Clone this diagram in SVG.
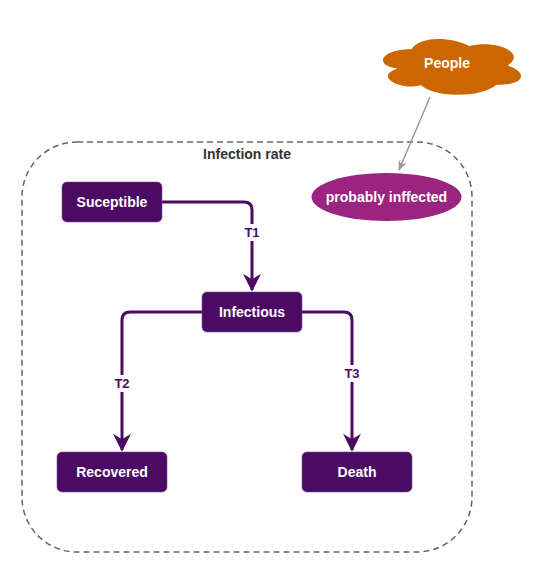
<svg xmlns="http://www.w3.org/2000/svg" width="554" height="576" viewBox="0 0 554 576">
<style>
.node rect{fill:#4b0b65;stroke:#7a4a90;stroke-width:0.6}
.nt{font-family:"Liberation Sans",Arial,sans-serif;font-weight:bold;font-size:14px;fill:#fff;text-anchor:middle;dominant-baseline:central}
.edge{fill:none;stroke:#4b0b65;stroke-width:3}
.el{font-family:"Liberation Sans",Arial,sans-serif;font-weight:bold;font-size:13px;fill:#4b0b65;text-anchor:middle;dominant-baseline:central}
</style>
<defs>
<marker id="ah" viewBox="0 0 10 10" refX="9" refY="5" markerWidth="6" markerHeight="6" markerUnits="strokeWidth" orient="auto">
<path d="M0,0 L10,5 L0,10 L3,5 Z" fill="#4b0b65"/>
</marker>
<marker id="ag" viewBox="0 0 10 10" refX="9" refY="5" markerWidth="7" markerHeight="7" markerUnits="strokeWidth" orient="auto">
<path d="M0,1 L10,5 L0,9 L3,5 Z" fill="#999"/>
</marker>
</defs>
<g id="container">
<rect x="22" y="142" width="450" height="410" rx="55" fill="none" stroke="#666" stroke-width="1.5" stroke-dasharray="6,4"/>
<text x="247" y="154" font-family="Liberation Sans,Arial,sans-serif" font-weight="bold" font-size="14px" fill="#333" text-anchor="middle" dominant-baseline="central">Infection rate</text>
</g>
<g id="connectors">
<path class="edge" d="M162,202 H244 Q252,202 252,210 V290" marker-end="url(#ah)"/>
<path class="edge" d="M202,312 H130 Q122,312 122,320 V450" marker-end="url(#ah)"/>
<path class="edge" d="M302,312 H344 Q352,312 352,320 V450" marker-end="url(#ah)"/>
<line x1="430" y1="97" x2="399" y2="170" stroke="#999" stroke-width="1.5" marker-end="url(#ag)"/>
<rect x="242" y="224" width="20" height="17" fill="#fff"/>
<text class="el" x="252" y="232.5">T1</text>
<rect x="112" y="375" width="20" height="17" fill="#fff"/>
<text class="el" x="122" y="383.5">T2</text>
<rect x="342" y="365" width="20" height="17" fill="#fff"/>
<text class="el" x="352" y="373.5">T3</text>
</g>
<g id="people">
<path d="M411.5,49.25 C380.7,49.25 373,65.5 397.64,68.75 C373,75.9 400.72,91.5 420.74,85 C434.6,98 480.8,98 496.2,85 C527,85 527,72 507.75,65.5 C527,52.5 496.2,39.5 469.25,46 C450,36.25 419.2,36.25 411.5,49.25 Z" fill="#cc6600"/>
<text class="nt" x="447" y="63">People</text>
</g>
<g id="probably">
<ellipse cx="386.5" cy="197" rx="75" ry="24" fill="#9b2480"/>
<text class="nt" x="386.5" y="197">probably inffected</text>
</g>
<g id="suceptible" class="node">
<rect x="62" y="182" width="100" height="40" rx="5"/>
<text class="nt" x="112" y="202">Suceptible</text>
</g>
<g id="infectious" class="node">
<rect x="202" y="292" width="100" height="40" rx="5"/>
<text class="nt" x="252" y="312">Infectious</text>
</g>
<g id="recovered" class="node">
<rect x="57" y="452" width="110" height="40" rx="5"/>
<text class="nt" x="112" y="472">Recovered</text>
</g>
<g id="death" class="node">
<rect x="302" y="452" width="110" height="40" rx="5"/>
<text class="nt" x="357" y="472">Death</text>
</g>
</svg>
